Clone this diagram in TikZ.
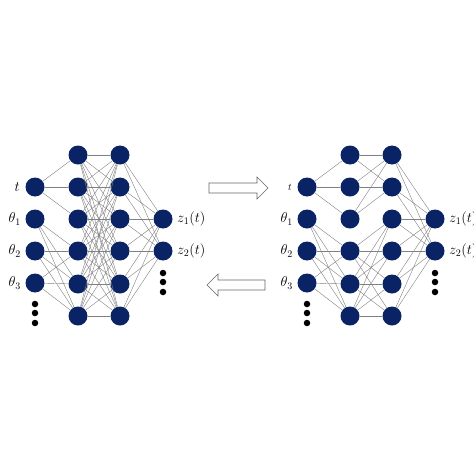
\documentclass[tikz,border=0pt]{standalone}
\usetikzlibrary{positioning,calc}
\definecolor{netblue}{RGB}{10,35,100}

\begin{document}
\begin{tikzpicture}[x=1pt,y=-1pt,
  font=\fontsize{14}{16}\selectfont,
  neuron/.style={circle,fill=netblue,minimum size=19pt,inner sep=0pt},
  conn/.style={draw=black!50,line width=0.4pt},
  dotnode/.style={circle,fill=black,minimum size=6.5pt,inner sep=0pt},
  blockarrow/.style={draw=black!60,line width=0.6pt,fill=white}]
    \useasboundingbox (0,0) rectangle (474,474);
    %
    % left network
    \foreach \i/\y in {1/187,2/219,3/251,4/283}
      \node[neuron] (l_in\i) at (35,\y) {};
    \foreach \i/\y in {1/155,2/187,3/219,4/251,5/284,6/316} {
      \node[neuron] (l_ha\i) at (78,\y) {};
      \node[neuron] (l_hb\i) at (120,\y) {};
    }
    \node[neuron] (l_out1) at (163,219) {};
    \node[neuron] (l_out2) at (163,251) {};
    \foreach \k/\y in {1/304,2/313,3/323}
      \node[dotnode] (l_dot\k) at (35,\y) {};
    \foreach \k/\y in {1/273,2/282,3/292}
      \node[dotnode] (l_odot\k) at (163,\y) {};
    \node[left=2pt of l_in1] (l_lt) {$t$};
    \node[left=1pt of l_in2] (l_lth1) {$\theta_1$};
    \node[left=1pt of l_in3] (l_lth2) {$\theta_2$};
    \node[left=1pt of l_in4] (l_lth3) {$\theta_3$};
    \node[right=1pt of l_out1] (l_lz1) {$z_1(t)$};
    \node[right=1pt of l_out2] (l_lz2) {$z_2(t)$};
    %
    \foreach \j in {1,2,3} \draw[conn] (l_in1) -- (l_ha\j);
    \foreach \i in {2,3,4} \foreach \j in {4,5,6} \draw[conn] (l_in\i) -- (l_ha\j);
    \foreach \i in {1,...,6} \foreach \j in {1,...,6} \draw[conn] (l_ha\i) -- (l_hb\j);
    \foreach \i in {1,...,6} \foreach \j in {1,2} \draw[conn] (l_hb\i) -- (l_out\j);
    %
    % right network
    \foreach \i/\y in {1/187,2/219,3/251,4/283}
      \node[neuron] (r_in\i) at (307,\y) {};
    \foreach \i/\y in {1/155,2/187,3/219,4/251,5/284,6/316} {
      \node[neuron] (r_ha\i) at (350,\y) {};
      \node[neuron] (r_hb\i) at (392,\y) {};
    }
    \node[neuron] (r_out1) at (435,219) {};
    \node[neuron] (r_out2) at (435,251) {};
    \foreach \k/\y in {1/304,2/313,3/323}
      \node[dotnode] (r_dot\k) at (307,\y) {};
    \foreach \k/\y in {1/273,2/282,3/292}
      \node[dotnode] (r_odot\k) at (435,\y) {};
    \node[left=2pt of r_in1,font=\fontsize{10}{12}\selectfont] (r_lt) {$t$};
    \node[left=1pt of r_in2] (r_lth1) {$\theta_1$};
    \node[left=1pt of r_in3] (r_lth2) {$\theta_2$};
    \node[left=1pt of r_in4] (r_lth3) {$\theta_3$};
    \node[right=1pt of r_out1] (r_lz1) {$z_1(t)$};
    \node[right=1pt of r_out2] (r_lz2) {$z_2(t)$};
    %
    \foreach \j in {1,2,3} \draw[conn] (r_in1) -- (r_ha\j);
    \foreach \i in {2,3,4} \foreach \j in {4,5,6} \draw[conn] (r_in\i) -- (r_ha\j);
    \foreach \i in {1,2,3} \foreach \j in {1,2} \draw[conn] (r_ha\i) -- (r_hb\j);
    \foreach \i in {4,5,6} \foreach \j in {3,4,5,6} \draw[conn] (r_ha\i) -- (r_hb\j);
    \foreach \i in {1,...,6} \foreach \j in {1,2} \draw[conn] (r_hb\i) -- (r_out\j);
    %
    % block arrows between the two networks
    \draw[blockarrow] (209,183) -- (257,183) -- (257,177) -- (268,188)
      -- (257,199) -- (257,193) -- (209,193) -- cycle;
    \draw[blockarrow] (265,280) -- (218,280) -- (218,274) -- (207,285)
      -- (218,296) -- (218,290) -- (265,290) -- cycle;
\end{tikzpicture}
\end{document}
